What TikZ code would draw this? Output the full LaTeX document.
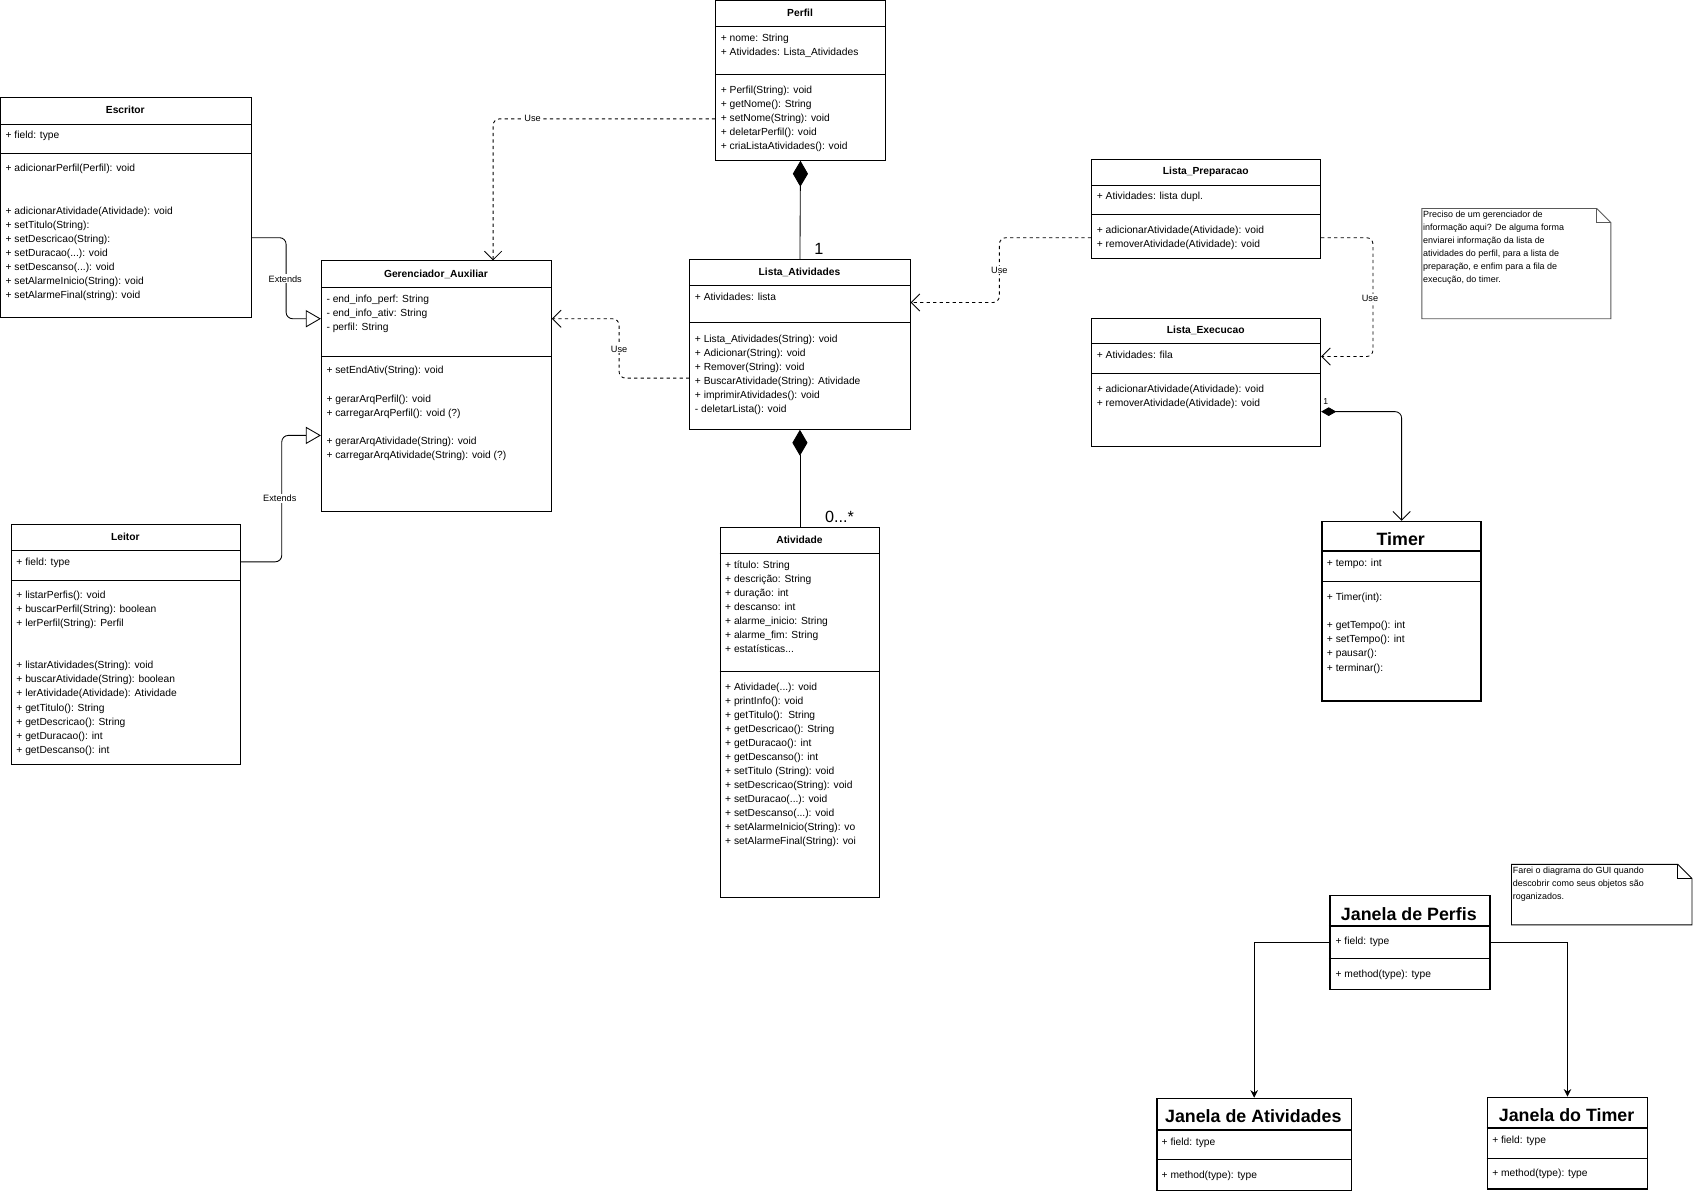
\documentclass[tikz,border=0pt]{standalone}
\usepackage{fontspec}
\setmainfont{Liberation Sans}
\usetikzlibrary{arrows.meta}
\tikzset{
  box/.style={draw, line width=0.8pt, anchor=north west, inner sep=0},
  tbox/.style={draw, line width=1.6pt, anchor=north west, inner sep=0},
  ttl/.style={font=\bfseries\fontsize{9.5}{12}\selectfont, inner sep=0},
  bigttl/.style={font=\bfseries\fontsize{16.5}{18}\selectfont, inner sep=0},
  txt/.style={anchor=north west, align=left, inner sep=0, font=\fontsize{9.5}{13}\selectfont},
  notetxt/.style={anchor=north west, align=left, inner sep=0, font=\fontsize{8.3}{12}\selectfont},
  lbl/.style={font=\fontsize{8.5}{10}\selectfont, fill=white, inner sep=1pt},
  dep/.style={draw, dashed, line width=0.8pt, rounded corners=6pt, -{Straight Barb[length=8pt,width=16pt]}},
  gen/.style={draw, line width=0.8pt, rounded corners=6pt, -{Triangle[open,length=14pt,width=16pt,fill=white]}},
  comp/.style={draw, line width=0.8pt, {Diamond[length=24pt,width=14pt]}-},
  assoc/.style={draw, line width=0.8pt, -{Stealth[length=7pt,width=7pt]}},
}
\begin{document}
\begin{tikzpicture}[x=1pt,y=-1pt]
\useasboundingbox[fill=white] (0,0) rectangle (1567,1104);

% Perfil
\node[box,minimum width=157pt,minimum height=148pt] (perfil) at (662,0) {};
\node[ttl] (perfilT) at (740.5,12) {Perfil};
\draw (662,24) -- (819,24);
\draw (662,69) -- (819,69);
\node[txt] (perfilA) at (667,31) {+ nome: String\\+ Atividades: Lista\_Atividades};
\node[txt] (perfilM) at (667,79) {+ Perfil(String): void\\+ getNome(): String\\+ setNome(String): void\\+ deletarPerfil(): void\\+ criaListaAtividades(): void};

% Escritor
\node[box,minimum width=232pt,minimum height=203pt] (esc) at (0,90) {};
\node[ttl] (escT) at (116,102) {Escritor};
\draw (0,115) -- (232,115);
\draw (0,142) -- (232,142);
\node[txt] (escA) at (5,121) {+ field: type};
\node[txt] (escM) at (5,152) {+ adicionarPerfil(Perfil): void\\[26pt]+ adicionarAtividade(Atividade): void\\+ setTitulo(String):\\+ setDescricao(String):\\+ setDuracao(...): void\\+ setDescanso(...): void\\+ setAlarmeInicio(String): void\\+ setAlarmeFinal(string): void};

% Gerenciador_Auxiliar
\node[box,minimum width=213pt,minimum height=232pt] (ger) at (297,241) {};
\node[ttl] (gerT) at (403.5,254) {Gerenciador\_Auxiliar};
\draw (297,266) -- (510,266);
\draw (297,330) -- (510,330);
\node[txt] (gerA) at (302,273) {- end\_info\_perf: String\\- end\_info\_ativ: String\\- perfil: String};
\node[txt] (gerM) at (302,339) {+ setEndAtiv(String): void\\[13pt]+ gerarArqPerfil(): void\\+ carregarArqPerfil(): void (?)\\[13pt]+ gerarArqAtividade(String): void\\+ carregarArqAtividade(String): void (?)};

% Leitor
\node[box,minimum width=212pt,minimum height=222pt] (leitor) at (10,485) {};
\node[ttl] (leitorT) at (116,497) {Leitor};
\draw (10,509) -- (222,509);
\draw (10,537) -- (222,537);
\node[txt] (leitorA) at (15,516) {+ field: type};
\node[txt] (leitorM) at (15,547) {+ listarPerfis(): void\\+ buscarPerfil(String): boolean\\+ lerPerfil(String): Perfil\\[26pt]+ listarAtividades(String): void\\+ buscarAtividade(String): boolean\\+ lerAtividade(Atividade): Atividade\\+ getTitulo(): String\\+ getDescricao(): String\\+ getDuracao(): int\\+ getDescanso(): int};

% Lista_Atividades
\node[box,minimum width=204pt,minimum height=157pt] (lista) at (638,240) {};
\node[ttl] (listaT) at (740,252) {Lista\_Atividades};
\draw (638,264) -- (842,264);
\draw (638,298) -- (842,298);
\node[txt] (listaA) at (643,271) {+ Atividades: lista};
\node[txt] (listaM) at (643,310) {+ Lista\_Atividades(String): void\\+ Adicionar(String): void\\+ Remover(String): void\\+ BuscarAtividade(String): Atividade\\+ imprimirAtividades(): void\\- deletarLista(): void};

% Atividade
\node[box,minimum width=148pt,minimum height=342pt] (ativ) at (666,488) {};
\node[ttl] (ativT) at (740,500) {Atividade};
\draw (666,512) -- (814,512);
\draw (666,621) -- (814,621);
\node[txt] (ativA) at (671,519) {+ título: String\\+ descrição: String\\+ duração: int\\+ descanso: int\\+ alarme\_inicio: String\\+ alarme\_fim: String\\+ estatísticas...};
\node[txt] (ativM) at (671,632) {+ Atividade(...): void\\+ printInfo(): void\\+ getTitulo():\ \ String\\+ getDescricao(): String\\+ getDuracao(): int\\+ getDescanso(): int\\+ setTitulo (String): void\\+ setDescricao(String): void\\+ setDuracao(...): void\\+ setDescanso(...): void\\+ setAlarmeInicio(String): vo\\+ setAlarmeFinal(String): voi};

% Lista_Preparacao
\node[box,minimum width=212pt,minimum height=92pt] (prep) at (1010,147) {};
\node[ttl] (prepT) at (1116,159) {Lista\_Preparacao};
\draw (1010,171) -- (1222,171);
\draw (1010,198) -- (1222,198);
\node[txt] (prepA) at (1015,178) {+ Atividades: lista dupl.};
\node[txt] (prepM) at (1015,209) {+ adicionarAtividade(Atividade): void\\+ removerAtividade(Atividade): void};

% Lista_Execucao
\node[box,minimum width=212pt,minimum height=119pt] (exec) at (1010,294) {};
\node[ttl] (execT) at (1116,306) {Lista\_Execucao};
\draw (1010,318) -- (1222,318);
\draw (1010,345) -- (1222,345);
\node[txt] (execA) at (1015,325) {+ Atividades: fila};
\node[txt] (execM) at (1015,356) {+ adicionarAtividade(Atividade): void\\+ removerAtividade(Atividade): void};

% Timer
\node[tbox,minimum width=147pt,minimum height=166pt] (timer) at (1223,482) {};
\node[bigttl] (timerT) at (1296.5,499) {Timer};
\draw[line width=1.2pt] (1223,510) -- (1370,510);
\draw (1223,538) -- (1370,538);
\node[txt] (timerA) at (1228,517) {+ tempo: int};
\node[txt] (timerM) at (1228,549) {+ Timer(int):\\[13pt]+ getTempo(): int\\+ setTempo(): int\\+ pausar():\\+ terminar():};

% Notes
\draw[gray!70!black, line width=0.8pt, fill=white] (1316,193) -- (1478,193) -- (1491,206) -- (1491,295) -- (1316,295) -- cycle;
\draw[gray!70!black, line width=0.8pt] (1478,193) -- (1478,206) -- (1491,206);
\node[notetxt] (note1) at (1317,195) {Preciso de um gerenciador de\\informação aqui? De alguma forma\\enviarei informação da lista de\\atividades do perfil, para a lista de\\preparação, e enfim para a fila de\\execução, do timer.};
\draw[line width=0.8pt, fill=white] (1399,800) -- (1553,800) -- (1566,813) -- (1566,856) -- (1399,856) -- cycle;
\draw[line width=0.8pt] (1553,800) -- (1553,813) -- (1566,813);
\node[notetxt] (note2) at (1400,802) {Farei o diagrama do GUI quando\\descobrir como seus objetos são\\roganizados.};

% Janelas
\node[tbox,minimum width=148pt,minimum height=87pt] (jp) at (1230,828) {};
\node[bigttl] (jpT) at (1304,846) {Janela de Perfis};
\draw[line width=1.2pt] (1230,857) -- (1378,857);
\draw (1230,887) -- (1378,887);
\node[txt] (jpA) at (1236,867) {+ field: type};
\node[txt] (jpM) at (1236,898) {+ method(type): type};

\node[tbox,minimum width=180pt,minimum height=85pt] (ja) at (1070,1016) {};
\node[bigttl] (jaT) at (1160,1033) {Janela de Atividades};
\draw[line width=1.2pt] (1070,1046) -- (1250,1046);
\draw (1070,1073) -- (1250,1073);
\node[txt] (jaA) at (1075,1053) {+ field: type};
\node[txt] (jaM) at (1075,1084) {+ method(type): type};

\node[tbox,minimum width=148pt,minimum height=85pt] (jt) at (1376,1015) {};
\node[bigttl] (jtT) at (1450,1032) {Janela do Timer};
\draw[line width=1.2pt] (1376,1044) -- (1524,1044);
\draw (1376,1072) -- (1524,1072);
\node[txt] (jtA) at (1381,1051) {+ field: type};
\node[txt] (jtM) at (1381,1082) {+ method(type): type};

% Connectors
\draw[dep] ([yshift=-110pt]perfil.north west) -| ([xshift=52.5pt]ger.north);
\node[lbl] (u1) at (493,110) {Use};
\draw[comp] (perfil.south) -- (lista.north);
\node[font=\fontsize{15}{16}\selectfont, inner sep=0] (m1) at (758,230) {1};
\draw[dep] ([yshift=-110pt]lista.north west) -- ++(-65,0) |- ([yshift=-54pt]ger.north east);
\node[lbl] (u2) at (573,323) {Use};
\draw[comp] (lista.south) -- (ativ.north);
\node[font=\fontsize{15}{16}\selectfont, inner sep=0] (m2) at (777,478) {0...*};
\draw[dep] ([yshift=-73pt]prep.north west) -- ++(-85,0) |- ([yshift=-40pt]lista.north east);
\node[lbl] (u3) at (925,250) {Use};
\draw[dep] ([yshift=-73pt]prep.north east) -- ++(48,0) |- ([yshift=-36pt]exec.north east);
\node[lbl] (u4) at (1268,276) {Use};
\draw[line width=0.8pt, rounded corners=6pt, {Diamond[length=14pt,width=8pt]}-{Straight Barb[length=8pt,width=16pt]}] ([yshift=-87pt]exec.north east) -| (timer.north);
\node[font=\fontsize{8}{9}\selectfont, inner sep=0] (m3) at (1227,372) {1};
\draw[gen] ([yshift=-130pt]esc.north east) -- ++(32,0) |- ([yshift=-54pt]ger.north west);
\node[lbl] (e1) at (264,258) {Extends};
\draw[gen] ([yshift=-35pt]leitor.north east) -- ++(38,0) |- ([yshift=-162pt]ger.north west);
\node[lbl] (e2) at (259,461) {Extends};
\draw[assoc] ([yshift=-44pt]jp.north west) -| (ja.north);
\draw[assoc] ([yshift=-44pt]jp.north east) -| (jt.north);
\end{tikzpicture}
\end{document}
